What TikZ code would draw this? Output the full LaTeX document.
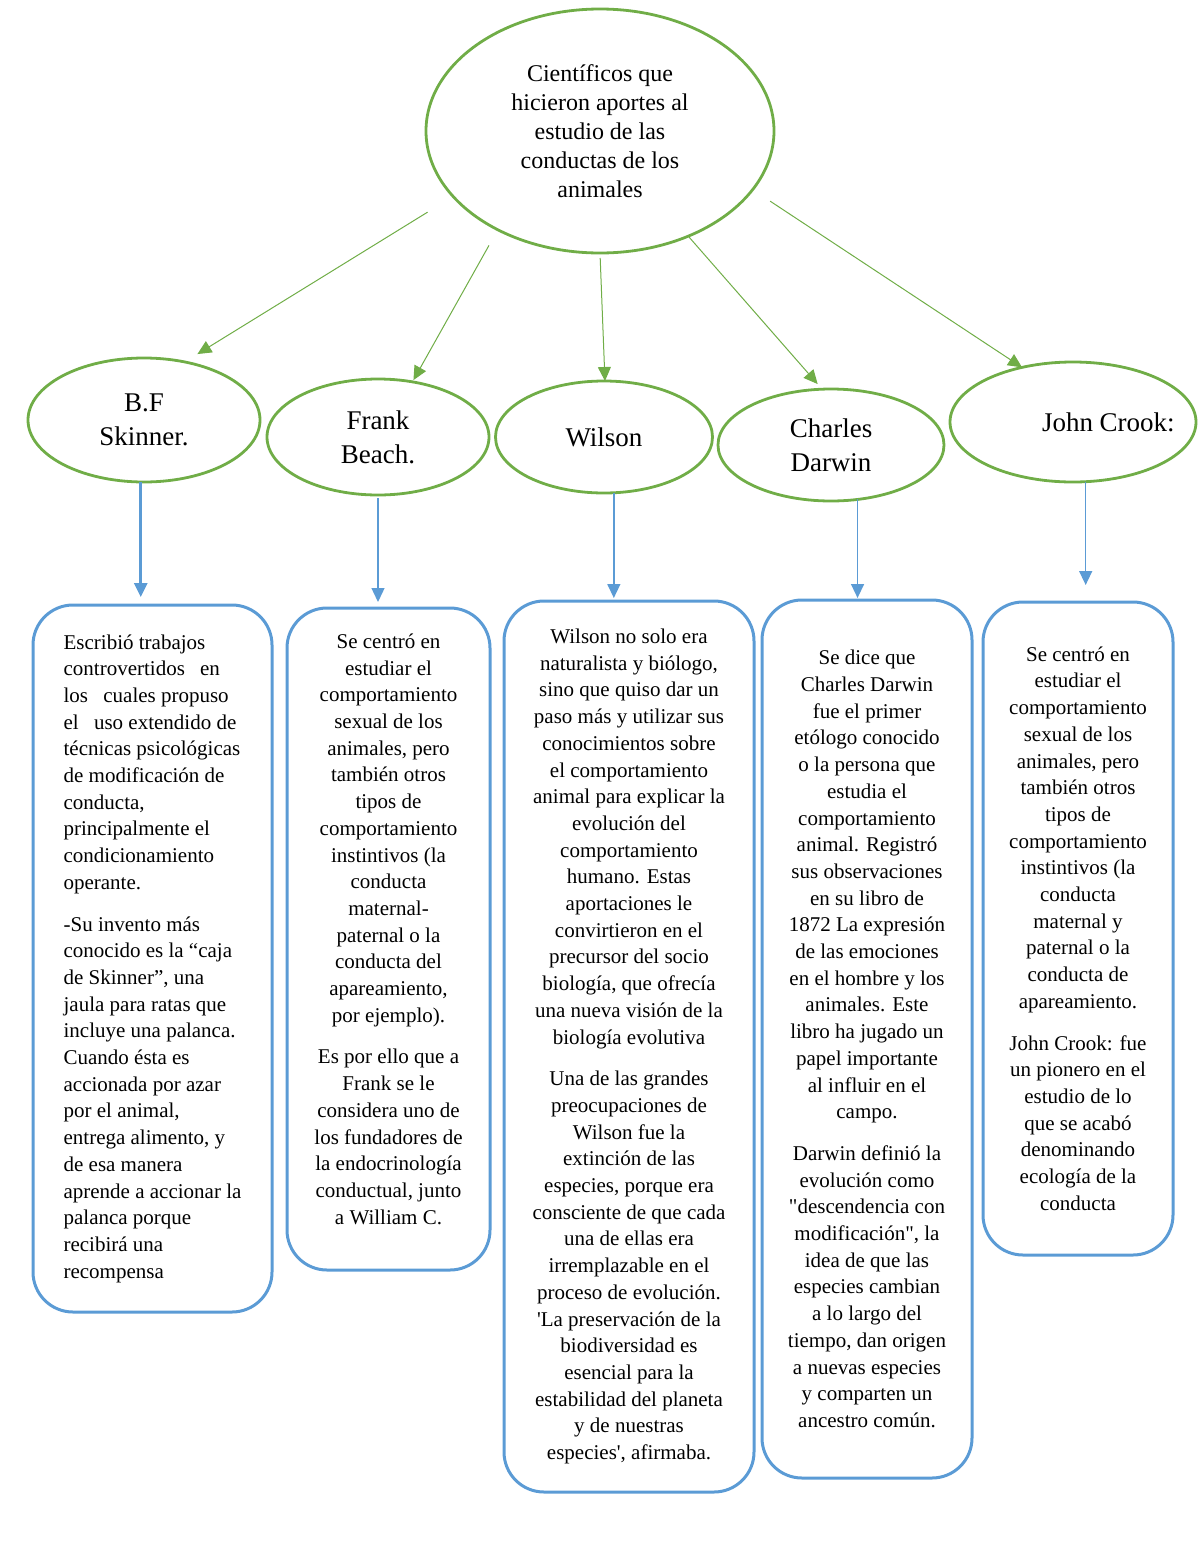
\documentclass[tikz,border=0pt]{standalone}
\usepackage{fontspec}
\setmainfont{Liberation Serif}[Ligatures=TeXOff]
\usetikzlibrary{shapes, arrows.meta}

\definecolor{leafgreen}{HTML}{70AD47}
\definecolor{skyblue}{HTML}{5B9BD5}

\begin{document}
\begin{tikzpicture}[x=0.5pt, y=-0.5pt,
		>={Triangle[length=7pt,width=6.5pt]},
		main/.style={ellipse, draw=leafgreen, line width=1.4pt, inner sep=0pt, outer sep=0pt, align=center, font=\fontsize{12}{14.5}\selectfont},
		who/.style={ellipse, draw=leafgreen, line width=1.4pt, inner sep=0pt, outer sep=0pt, align=center, font=\fontsize{13.5}{17}\selectfont},
		info/.style={rectangle, rounded corners=20pt, draw=skyblue, line width=1.5pt, inner sep=0pt, outer sep=0pt, font=\fontsize{10.5}{13.35}\selectfont}]
			\useasboundingbox (0,0) rectangle (1200,1553);
			\node[main, minimum width=174pt, minimum height=122pt] (top) at (600,131) {Científicos que\\hicieron aportes al\\estudio de las\\conductas de los\\animales};
			\node[who, minimum width=116pt, minimum height=62pt] (skinner) at (144,420) {B.F\\Skinner.};
			\node[who, minimum width=111pt, minimum height=58pt] (frank) at (378,437) {Frank\\Beach.};
			\node[who, minimum width=108.5pt, minimum height=56pt] (wilson) at (604,437) {Wilson};
			\node[who, minimum width=113pt, minimum height=56pt] (charles) at (831,445) {Charles\\Darwin};
			\node[who, minimum width=123pt, minimum height=60pt] (john) at (1073,422) {\makebox[0pt][l]{\kern-15.5pt John Crook:}};
			\node[info, align=left, minimum width=119.5pt, minimum height=353.5pt] (skinnerbox) at (152.5,958.5) {Escribió trabajos\\controvertidos\hspace{5pt} en\\los\hspace{5pt} cuales propuso\\el\hspace{5pt} uso extendido de\\técnicas psicológicas\\de modificación de\\conducta,\\principalmente el\\condicionamiento\\operante.\\[7.5pt]-Su invento más\\conocido es la “caja\\de Skinner”, una\\jaula para ratas que\\incluye una palanca.\\Cuando ésta es\\accionada por azar\\por el animal,\\entrega alimento, y\\de esa manera\\aprende a accionar la\\palanca porque\\recibirá una\\recompensa};
			\node[info, align=center, minimum width=101.5pt, minimum height=331pt] (frankbox) at (388.5,939) {Se centró en\\estudiar el\\comportamiento\\sexual de los\\animales, pero\\también otros\\tipos de\\comportamiento\\instintivos (la\\conducta\\maternal-\\paternal o la\\conducta del\\apareamiento,\\por ejemplo).\\[7.5pt]Es por ello que a\\Frank se le\\considera uno de\\los fundadores de\\la endocrinología\\conductual, junto\\a William C.\\[-3.35pt]\mbox{}};
			\node[info, align=center, minimum width=125pt, minimum height=445.5pt] (wilsonbox) at (629,1046.5) {Wilson no solo era\\naturalista y biólogo,\\sino que quiso dar un\\paso más y utilizar sus\\conocimientos sobre\\el comportamiento\\animal para explicar la\\evolución del\\comportamiento\\humano. Estas\\aportaciones le\\convirtieron en el\\precursor del socio\\biología, que ofrecía\\una nueva visión de la\\biología evolutiva\\[7.5pt]Una de las grandes\\preocupaciones de\\Wilson fue la\\extinción de las\\especies, porque era\\consciente de que cada\\una de ellas era\\irremplazable en el\\proceso de evolución.\\'La preservación de la\\biodiversidad es\\esencial para la\\estabilidad del planeta\\y de nuestras\\especies', afirmaba.};
			\node[info, align=center, minimum width=105pt, minimum height=439pt] (charlesbox) at (867,1039) {Se dice que\\Charles Darwin\\fue el primer\\etólogo conocido\\o la persona que\\estudia el\\comportamiento\\animal. Registró\\sus observaciones\\en su libro de\\1872 La expresión\\de las emociones\\en el hombre y los\\animales. Este\\libro ha jugado un\\papel importante\\al influir en el\\campo.\\[7.5pt]Darwin definió la\\evolución como\\"descendencia con\\modificación", la\\idea de que las\\especies cambian\\a lo largo del\\tiempo, dan origen\\a nuevas especies\\y comparten un\\ancestro común.};
			\node[info, align=center, minimum width=95pt, minimum height=326.5pt] (johnbox) at (1078,928.5) {Se centró en\\estudiar el\\comportamiento\\sexual de los\\animales, pero\\también otros\\tipos de\\comportamiento\\instintivos (la\\conducta\\maternal y\\paternal o la\\conducta de\\apareamiento.\\[7.5pt]John Crook: fue\\un pionero en el\\estudio de lo\\que se acabó\\denominando\\ecología de la\\conducta};
			\path[->, leafgreen, line width=0.5pt]
				(top.204) edge [shorten <=15pt, shorten >=7.5pt] (skinner.55)
				(top.224) edge [shorten <=9pt, shorten >=1pt] (frank.58)
				(top.270) edge [shorten <=2.5pt] (wilson.89)
				(top.310) edge [shorten <=0.7pt, shorten >=3.4pt] (charles.99)
				(top.339) edge [shorten <=10.5pt] (john.133);
			\path[->, skyblue, line width=0.7pt]
				(skinner.267) edge [line width=1.5pt, shorten >=4pt] (skinner.267 |- skinnerbox.north)
				(frank.270) edge [shorten <=1.5pt, shorten >=3pt] (frank.270 |- frankbox.north)
				(wilson.280) edge [shorten >=1.5pt] (wilson.280 |- wilsonbox.north)
				(charles.296) edge [shorten >=1pt] (charles.296 |- charlesbox.north)
				(john.282) edge [shorten >=8.5pt] (john.282 |- johnbox.north);
		\end{tikzpicture}
\end{document}
